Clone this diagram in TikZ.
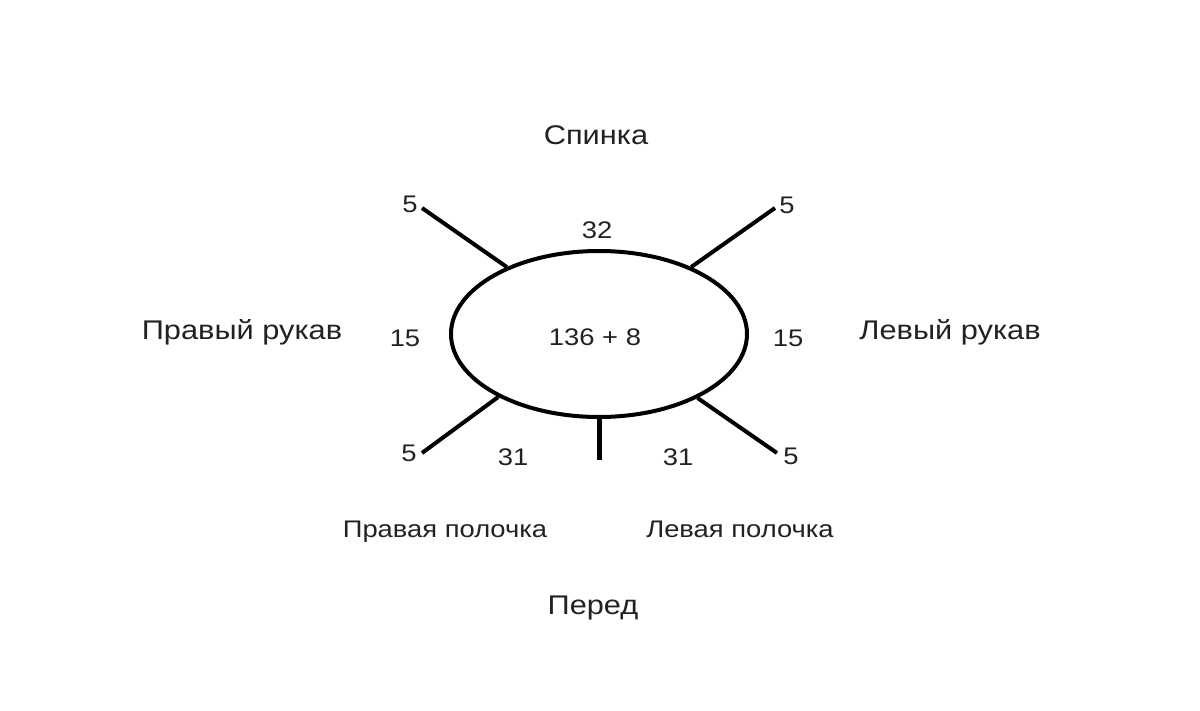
\documentclass[tikz,border=0pt]{standalone}
\usepackage{fontspec}
\setmainfont{Liberation Sans}
\newfontfamily\widesans[FakeStretch=1.14]{Liberation Sans}
\usetikzlibrary{shapes.geometric}
\definecolor{txt}{HTML}{222222}
\begin{document}
\begin{tikzpicture}[x=1pt,y=-1pt,
  lbl/.style={text=txt,font=\widesans\fontsize{27}{32}\selectfont,inner sep=0pt,anchor=base},
  sub/.style={text=txt,font=\widesans\fontsize{24}{28}\selectfont,inner sep=0pt,anchor=base},
  num/.style={text=txt,font=\widesans\fontsize{24}{28}\selectfont,inner sep=0pt},
  rib/.style={line width=4pt,line cap=butt},
  body/.style={ellipse,draw,line width=4pt,minimum width=296pt,minimum height=166pt,inner sep=0pt}]
\useasboundingbox[fill=white] (0,0) rectangle (1200,711);
\node[body] (b) at (599,334) {};
\node[num] (tot) at (595,337) {136 + 8};
% spokes
\coordinate (ul) at (422,208);
\coordinate (ur) at (775,208);
\coordinate (ll) at (422,453);
\coordinate (lr) at (777,453);
\coordinate (bt) at (599,460);
\draw[rib] (b.144) -- (ul);
\draw[rib] (b.36.5) -- (ur);
\draw[rib] (b.212.7) -- (ll);
\draw[rib] (b.327) -- (lr);
\draw[line width=5pt] (b.270) -- (bt);
% numbers
\node[num] (n1) at (410,204) {5};
\node[num] (n2) at (787,205) {5};
\node[num] (n3) at (409,453) {5};
\node[num] (n4) at (791,456) {5};
\node[num] (n32) at (597,230) {32};
\node[num] (n15a) at (405,338) {15};
\node[num] (n15b) at (788,338) {15};
\node[num] (n31a) at (513,457) {31};
\node[num] (n31b) at (678,457) {31};
% labels
\node[lbl] (sp) at (596,145) {Спинка};
\node[lbl] (pr) at (242,340) {Правый рукав};
\node[lbl] (lr2) at (950,340) {Левый рукав};
\node[sub] (pp) at (445,537) {Правая полочка};
\node[sub] (lp) at (740,537) {Левая полочка};
\node[lbl] (pe) at (593,614) {Перед};
\end{tikzpicture}
\end{document}
